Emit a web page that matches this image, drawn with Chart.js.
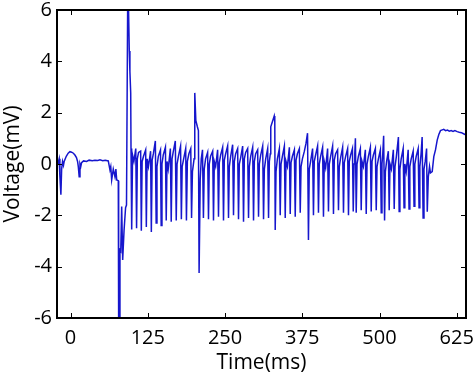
<!DOCTYPE html>
<html><head><meta charset="utf-8">
<script src="https://cdn.jsdelivr.net/npm/chart.js@4"></script>
<style>html,body{margin:0;padding:0;background:#fff}#c{display:block}</style>
</head><body>
<canvas id="c" width="474" height="377"></canvas>
<script>
// Sample times (ms)
const timeMs = [
-21.5,-20.1,-18.5,-17.3,-15.7,-14.5,-13,-11.5,-10.4,-7,
-3.9,-1.1,1.6,4.5,7,9.5,11.3,12.5,13.9,15.2,
16.5,17.8,21,25.9,30,35,39.4,44,47.5,52,
56,61,63.7,65,66.5,69.1,71.8,73.3,74.6,77.2,
77.8,78.6,79.9,81.2,82.7,84.3,86.5,89,90.5,92.4,
93.6,95,96,97.3,97.8,
98.9,100.3,102.5,105.5,
106.8,108,110,113.4,
114.5,115.8,118,121.5,
122.6,123.9,126,129.5,
130.7,132,134,137.2,
138.5,139.8,142,145.5,
146.6,147.9,150,153.5,
154.8,156.1,158,161.5,
162.9,164.2,166,169.5,
171,172.3,174.5,178,
179.3,180.6,183,186.3,
187.5,189,191.5,194.5,
195.8,197.2,199.9,201,202.7,205.2,206.9,
208,209.8,211.5,213.5,
215,216.3,218.5,221.8,
223.2,224.5,226.6,230,
231.3,232.6,234.8,238,
239.4,240.7,242.9,246.1,
247.5,248.8,251,254.2,
255.6,256.9,259.1,262.3,
263.7,265,267.2,270.4,
271.8,273.1,275.3,278.5,
279.9,281.2,283.4,286.6,
288,289.3,291.5,294.7,
296.1,297.4,299.6,302.8,
304.2,305.5,307.7,310.9,
312.3,313.6,315.8,319,
320.4,321.7,323.3,324,329.6,330.5,
331.2,332.5,334.7,337.9,
339.3,340.6,342.8,346,
347.4,348.7,350.9,354.1,
355.5,356.8,359,362.2,
363.6,364.9,367.1,370.3,
371.7,373,375.2,378.4,381,383.5,
385,386.3,388.5,391.7,
393.1,394.4,396.6,399.8,
401.2,402.5,404.7,407.9,
409.3,410.6,412.8,416,
417.4,418.7,420.9,424.1,
425.5,426.8,429,432.2,
433.6,434.9,437.1,440.3,
441.7,443,445.2,448.4,
449.8,451.1,453.3,456.2,
457.5,458.8,460,461,
462.3,463.6,465.8,469,
470.4,471.7,473.9,477.1,
478.5,479.8,482,485.2,
486.6,487.9,490.1,493.3,
494.7,496,498.2,501.4,
502.8,504,505.3,506.7,
508.2,509.5,511.5,514.3,
515.7,517,519.2,522.4,
523.8,525.1,527.3,530.6,
531.8,533,535.1,538.3,
539.7,541,543.2,546.4,
547.8,549.1,551.3,554.5,
555.9,557.2,559.4,562.6,
564,565.3,567.3,569,
570.6,572,574,576.2,
577.3,579,581,582.5,
585.3,587.9,590.6,593.4,596,598.7,601.5,604,607,610,
613,616,619,622,625.8,629,632.6,636,640.3
];
// Measured voltage (mV) at each sample time
const voltageMv = [
0.1,0.05,0.2,-0.5,-1.2,-0.2,0.1,-0.05,0.1,0.3,
0.42,0.48,0.46,0.42,0.35,0.25,0.1,-0.1,-0.5,0.0,
-0.1,0.05,0.12,0.1,0.15,0.13,0.15,0.14,0.16,0.13,
0.15,0.12,-0.23,-0.1,-0.62,-0.2,-0.5,-0.2,-0.62,-0.65,
-6.3,-6.3,-3.35,-3.4,-1.66,-3.74,-2.6,-1.7,-1.6,6.3,
6.3,4.4,3.6,2.77,0.6,
-2.55,0.35,0.1,0.6,
-2.5,0.2,0.45,0.5,
-2.6,0.1,0.3,0.55,
-2.45,0.2,-0.1,0.5,
-2.65,0.15,0.4,0.9,
-2.3,-0.1,0.3,0.55,
-2.4,0.0,0.35,0.65,
-2.2,0.1,-0.2,0.6,
-2.25,0.2,0.45,0.9,
-2.2,0.0,0.3,0.7,
-2.15,-0.1,0.2,0.6,
-2.2,0.1,0.4,0.6,
-2.1,-0.3,0.2,2.77,1.7,1.45,1.3,
-4.25,-0.6,0.2,0.55,
-2.1,-0.2,0.2,0.45,
-2.15,0.0,0.3,0.5,
-2.2,0.1,-0.1,0.55,
-2.05,0.05,0.35,0.65,
-2.2,0.15,0.4,0.7,
-2.1,-0.1,0.3,0.75,
-2.0,0.1,0.4,0.6,
-2.15,0.0,0.25,0.7,
-2.25,0.2,0.45,0.6,
-2.1,-0.1,0.3,0.65,
-2.2,0.1,0.4,0.55,
-2.05,0.0,0.35,0.7,
-2.15,-0.2,0.2,0.6,
-2.1,0.1,0.4,1.45,1.87,1.65,
-2.57,-0.3,0.2,0.6,
-2.0,0.0,0.3,0.7,
-2.1,0.1,-0.1,0.65,
-1.95,0.05,0.3,0.55,
-2.05,0.15,0.4,0.6,
-1.9,-0.1,0.2,0.5,0.8,1.2,
-2.96,-0.2,0.1,0.6,
-2.0,0.1,0.35,0.7,
-1.9,0.0,0.3,0.65,
-2.05,0.1,-0.15,0.6,
-1.85,0.0,0.3,0.7,
-1.95,0.15,0.4,0.55,
-1.8,-0.1,0.25,0.65,
-1.9,0.05,0.3,0.6,
-2.0,0.1,0.35,0.6,
-1.85,0.0,0.4,1.0,
-1.9,0.0,0.3,0.6,
-1.8,0.1,-0.1,0.55,
-1.95,0.0,0.3,0.65,
-1.85,0.1,0.35,0.6,
-1.8,-0.1,0.2,0.55,
-1.9,0.0,0.4,1.1,
-2.2,-0.3,0.1,0.5,
-1.8,0.0,-0.2,0.55,
-1.75,-0.1,0.3,1.05,
-1.85,-0.2,0.2,0.6,
-1.7,0.0,-0.3,0.55,
-1.75,-0.1,0.2,0.5,
-1.65,0.0,0.3,0.6,
-1.7,-0.1,0.4,1.05,
-2.1,-0.2,0.1,0.6,
-1.86,-0.5,-0.1,-0.35,
-0.3,0.29,0.55,0.93,1.15,1.3,1.33,1.35,1.3,1.32,
1.28,1.3,1.27,1.3,1.26,1.24,1.22,1.18,1.13
];
const xTicks = [0, 125, 250, 375, 500, 625];
const yTicks = [-6, -4, -2, 0, 2, 4, 6];
const xLabel = 'Time(ms)';
const yLabel = 'Voltage(mV)';

const points = timeMs.map((t, i) => ({x: t, y: voltageMv[i]}));

const framePlugin = {
  id: 'frame',
  afterDatasetsDraw(chart) {
    const {ctx, chartArea: a, scales: {x, y}} = chart;
    ctx.save();
    ctx.strokeStyle = '#000';
    ctx.lineWidth = 1;
    ctx.beginPath();
    for (const v of xTicks) {
      const px = Math.round(x.getPixelForValue(v)) + 0.5;
      ctx.moveTo(px, a.bottom); ctx.lineTo(px, a.bottom - 5);
      ctx.moveTo(px, a.top); ctx.lineTo(px, a.top + 5);
    }
    for (const v of yTicks) {
      const py = Math.round(y.getPixelForValue(v)) + 0.5;
      ctx.moveTo(a.left, py); ctx.lineTo(a.left + 5, py);
      ctx.moveTo(a.right, py); ctx.lineTo(a.right - 5, py);
    }
    ctx.stroke();
    ctx.lineWidth = 2;
    ctx.strokeRect(a.left, a.top, a.right - a.left, a.bottom - a.top);
    ctx.restore();
  }
};

new Chart(document.getElementById('c'), {
  type: 'line',
  data: {
    datasets: [{
      data: points,
      borderColor: 'rgb(22,22,205)',
      borderWidth: 1.5,
      pointRadius: 0,
      tension: 0,
      fill: false,
      clip: 0
    }]
  },
  options: {
    responsive: false,
    devicePixelRatio: 1,
    animation: false,
    layout: {padding: {left: 0, right: 8, top: 10, bottom: 0}},
    plugins: {legend: {display: false}, tooltip: {enabled: false}},
    scales: {
      x: {
        type: 'linear',
        min: -22, max: 640,
        afterBuildTicks(s) { s.ticks = xTicks.map(v => ({value: v})); },
        afterFit(s) { s.height = 59; s.paddingLeft = 0; s.paddingRight = 0; },
        grid: {display: false, drawTicks: false},
        border: {display: false},
        ticks: {color: '#000', padding: 8, maxRotation: 0, autoSkip: false,
                font: {family: 'Open Sans', size: 20}},
        title: {display: true, text: xLabel, color: '#000', padding: {top: 0, bottom: 1},
                font: {family: 'Open Sans', size: 21}}
      },
      y: {
        type: 'linear',
        min: -6, max: 6,
        afterBuildTicks(s) { s.ticks = yTicks.map(v => ({value: v})); },
        afterFit(s) { s.width = 57; s.paddingTop = 0; s.paddingBottom = 0; },
        grid: {display: false, drawTicks: false},
        border: {display: false},
        ticks: {color: '#000', padding: 5, autoSkip: false,
                font: {family: 'Open Sans', size: 20}},
        title: {display: true, text: yLabel, color: '#000', padding: {top: 0, bottom: 0},
                font: {family: 'Open Sans', size: 21}}
      }
    }
  },
  plugins: [framePlugin]
});
</script>
</body></html>
